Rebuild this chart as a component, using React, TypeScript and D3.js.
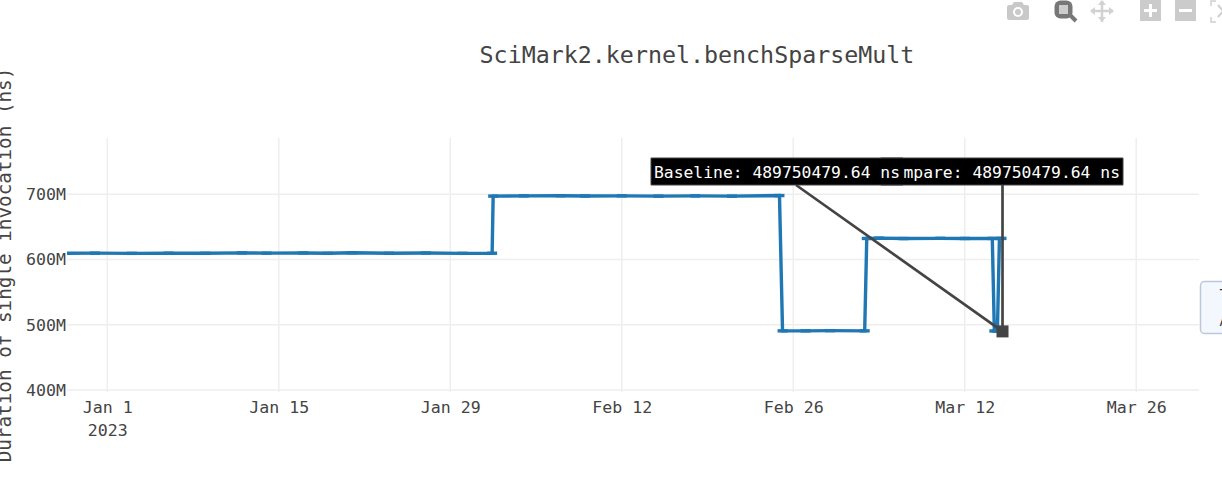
import * as d3 from 'd3';

const WIDTH = 1222;
const HEIGHT = 496;
const MARGIN = { top: 138, right: 23, bottom: 106, left: 67 };
const FONT = '"DejaVu Sans Mono", monospace';
const TEXT_COLOR = '#444';
const LINE_COLOR = '#1f77b4';
const CAP_HALF_WIDTH = 5;

const TITLE = 'SciMark2.kernel.benchSparseMult';
const Y_TITLE = 'Duration of single invocation (ns)';

const runDates = [
  '2022-12-28', '2022-12-31', '2023-01-03', '2023-01-06', '2023-01-09', '2023-01-12', '2023-01-14',
  '2023-01-17', '2023-01-19', '2023-01-21', '2023-01-24', '2023-01-27', '2023-01-30', '2023-02-01T10:00',
  '2023-02-01T12:00', '2023-02-04', '2023-02-07', '2023-02-09', '2023-02-12', '2023-02-15', '2023-02-18',
  '2023-02-21', '2023-02-24T21:00',
  '2023-02-25T03:00', '2023-02-27', '2023-03-01', '2023-03-03T20:00',
  '2023-03-04T00:00', '2023-03-05', '2023-03-07', '2023-03-10', '2023-03-12', '2023-03-14T06:00',
  '2023-03-14T10:00', '2023-03-14T16:00',
  '2023-03-14T20:00', '2023-03-15T00:00',
];
const runValues = [
  609.5, 609.6, 609.3, 609.5, 609.4, 610.1, 609.6,
  609.9, 609.4, 610.3, 609.5, 609.8, 609.3, 609.5,
  697, 697.3, 697.6, 697.2, 697.4, 697.0, 697.3,
  696.9, 697.8,
  490.6, 490.6, 490.9, 490.6,
  632.1, 632.6, 632.0, 632.3, 632.1, 632.2,
  490.4, 490.5,
  632.1, 632.2,
];

const markerDate = '2023-03-15T02:00';
const markerValue = 489750479.64 / 1e6;

const yTicks = [400, 500, 600, 700];
const xTickDates = ['2023-01-01', '2023-01-15', '2023-01-29', '2023-02-12', '2023-02-26', '2023-03-12', '2023-03-26'];
const xTickLabels = ['Jan 1', 'Jan 15', 'Jan 29', 'Feb 12', 'Feb 26', 'Mar 12', 'Mar 26'];

const toDate = (d: string) => new Date(d.includes('T') ? d : d + 'T00:00:00');

const App = () => {
  const left = MARGIN.left;
  const right = WIDTH - MARGIN.right;
  const top = MARGIN.top;
  const bottom = HEIGHT - MARGIN.bottom;

  const xScale = d3
    .scaleTime()
    .domain([new Date('2022-12-28T17:00:00'), new Date('2023-03-31T03:00:00')])
    .range([left, right]);
  const yScale = d3.scaleLinear().domain([400, 786]).range([bottom, top]);

  const points = runDates.map((d, i) => ({ x: xScale(toDate(d)), y: yScale(runValues[i]) }));
  const linePath = d3.line<{ x: number; y: number }>().x((d) => d.x).y((d) => d.y)(points) ?? '';

  const mx = xScale(toDate(markerDate));
  const my = yScale(markerValue);

  return (
    <svg
      width={WIDTH}
      height={HEIGHT}
      style={{ position: 'absolute', left: 0, top: 0, background: '#fff' }}
      fontFamily={FONT}
    >
      <defs>
        <clipPath id="plot-clip">
          <rect x={left} y={top} width={right - left} height={bottom - top} />
        </clipPath>
      </defs>

      {/* grid */}
      {xTickDates.map((d) => {
        const x = xScale(toDate(d));
        return <line key={d} x1={x} x2={x} y1={top} y2={bottom + 2} stroke="#eee" strokeWidth={1.5} />;
      })}
      {yTicks.map((v) => (
        <line key={v} x1={left} x2={right} y1={yScale(v)} y2={yScale(v)} stroke="#eee" strokeWidth={1.5} />
      ))}

      {/* axis labels */}
      {yTicks.map((v) => (
        <text key={v} x={left - 1} y={yScale(v)} dy="0.35em" textAnchor="end" fontSize={16.6} fill={TEXT_COLOR}>
          {v}M
        </text>
      ))}
      {xTickDates.map((d, i) => (
        <text key={d} x={xScale(toDate(d)) + 0.5} y={413} textAnchor="middle" fontSize={16.6} fill={TEXT_COLOR}>
          {xTickLabels[i]}
        </text>
      ))}
      <text x={xScale(toDate('2023-01-01')) + 0.5} y={436} textAnchor="middle" fontSize={16.6} fill={TEXT_COLOR}>
        2023
      </text>

      {/* titles */}
      <text x={697} y={63} textAnchor="middle" fontSize={23.3} fill={TEXT_COLOR}>
        {TITLE}
      </text>
      <text
        transform="translate(11,265) rotate(-90)"
        textAnchor="middle"
        fontSize={19.3}
        fill={TEXT_COLOR}
      >
        {Y_TITLE}
      </text>

      {/* series */}
      <g clipPath="url(#plot-clip)">
        <path d={linePath} fill="none" stroke={LINE_COLOR} strokeWidth={3.4} />
        {points.map((p, i) => (
          <line
            key={i}
            x1={p.x - CAP_HALF_WIDTH}
            x2={p.x + CAP_HALF_WIDTH}
            y1={p.y}
            y2={p.y}
            stroke={LINE_COLOR}
            strokeWidth={3.4}
          />
        ))}
      </g>

      {/* annotations, the baseline box sits over the start of the compare box */}
      <Annotation label="Compare: 489750479.64 ns" boxRight={1123} anchorX={mx} mx={mx} my={my} />
      <Annotation label="Baseline: 489750479.64 ns" boxRight={903} anchorX={796} mx={mx} my={my} openRight />
      <rect x={mx - 6} y={my - 6} width={12} height={12} fill={TEXT_COLOR} />

      {/* side tab, mostly off the page */}
      <rect x={1200.5} y={281.5} width={40} height={52} rx={4} fill="#f3f8ff" stroke="#bcc8da" strokeWidth={1.5} />
      <text x={1219.5} y={300} fontSize={14} fontFamily="Roboto, sans-serif" fill="#333">T</text>
      <text x={1219.5} y={326} fontSize={14} fontFamily="Roboto, sans-serif" fill="#333">A</text>

      <ModeBar />
    </svg>
  );
};

type AnnotationProps = { label: string; boxRight: number; anchorX: number; mx: number; my: number; openRight?: boolean };

const Annotation = ({ label, boxRight, anchorX, mx, my, openRight }: AnnotationProps) => {
  const boxWidth = label.length * 9.84 + 6;
  const boxLeft = boxRight - boxWidth;
  const boxTop = 158;
  const boxHeight = 27;
  const boxBottom = boxTop + boxHeight;
  const outline = openRight
    ? `M${boxRight},${boxTop}H${boxLeft}V${boxBottom}H${boxRight}`
    : `M${boxRight},${boxTop}H${boxLeft}V${boxBottom}H${boxRight}Z`;
  return (
    <g>
      <line x1={anchorX} y1={boxBottom} x2={mx} y2={my} stroke={TEXT_COLOR} strokeWidth={2.7} />
      <rect x={boxLeft} y={boxTop} width={boxWidth} height={boxHeight} fill="#000" />
      <path d={outline} fill="none" stroke={TEXT_COLOR} strokeWidth={1} />
      <text x={boxLeft + 3} y={boxTop + 19.5} fontSize={16.35} fill="#fff">
        {label}
      </text>
    </g>
  );
};

const ModeBar = () => (
  <g>
    {/* camera */}
    <path
      d="M1007 7 a2 2 0 0 1 2 -2 h3 l2 -3 h8 l2 3 h3 a2 2 0 0 1 2 2 v11 a2 2 0 0 1 -2 2 h-18 a2 2 0 0 1 -2 -2 z"
      fill="#c9c9c9"
    />
    <circle cx={1018} cy={12} r={5} fill="#fff" />
    <circle cx={1018} cy={12} r={3} fill="#c9c9c9" />
    {/* zoom, active */}
    <rect x={1054.5} y={0.5} width={18} height={18} rx={6} fill="#777" />
    <rect x={1059} y={5} width={9} height={9} fill="#ccc" />
    <line x1={1069} y1={14} x2={1076} y2={21} stroke="#777" strokeWidth={4} />
    {/* pan */}
    <g stroke="#d2d2d2" strokeWidth={2.5} fill="#d2d2d2">
      <line x1={1091} y1={11} x2={1113} y2={11} />
      <line x1={1102} y1={1} x2={1102} y2={22} />
      <path d="M1102 0 l-4 5 h8 z M1102 22 l-4 -5 h8 z M1090 11 l5 -4 v8 z M1114 11 l-5 -4 v8 z" strokeWidth={0} />
    </g>
    {/* zoom in / out */}
    <rect x={1140} y={0} width={21} height={21} fill="#cbcbcb" />
    <path d="M1150.5 4 v13 M1144 10.5 h13" stroke="#fff" strokeWidth={3} />
    <rect x={1175} y={0} width={21} height={21} fill="#cbcbcb" />
    <path d="M1179 10.5 h13" stroke="#fff" strokeWidth={3} />
    {/* autoscale */}
    <path d="M1216 1 h-5 v5 M1211 17 v5 h5" fill="none" stroke="#cfcfcf" strokeWidth={1.5} />
    <path d="M1218 5 l5 6 l-5 6" fill="none" stroke="#cfcfcf" strokeWidth={2} />
  </g>
);

export default App;
